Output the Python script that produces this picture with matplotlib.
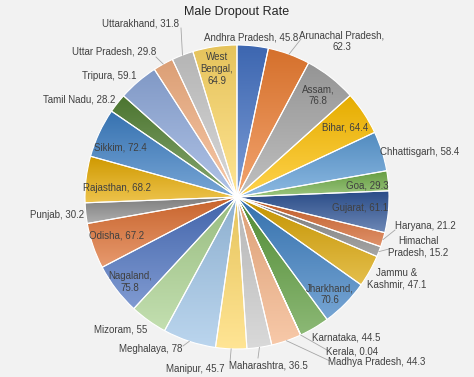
import numpy as np
import matplotlib.pyplot as plt
from matplotlib.colors import to_rgb

states = ['Andhra Pradesh', 'Arunachal Pradesh', 'Assam', 'Bihar', 'Chhattisgarh', 'Goa',
          'Gujarat', 'Haryana', 'Himachal Pradesh', 'Jammu & Kashmir', 'Jharkhand', 'Karnataka',
          'Kerala', 'Madhya Pradesh', 'Maharashtra', 'Manipur', 'Meghalaya', 'Mizoram',
          'Nagaland', 'Odisha', 'Punjab', 'Rajasthan', 'Sikkim', 'Tamil Nadu',
          'Tripura', 'Uttar Pradesh', 'Uttarakhand', 'West Bengal']
rates = [45.8, 62.3, 76.8, 64.4, 58.4, 29.3,
         61.1, 21.2, 15.2, 47.1, 70.6, 44.5,
         0.04, 44.3, 36.5, 45.7, 78, 55,
         75.8, 67.2, 30.2, 68.2, 72.4, 28.2,
         59.1, 29.8, 31.8, 64.9]

# colores tipo excel
colores = ['#4472C4', '#ED7D31', '#A5A5A5', '#FFC000', '#5B9BD5', '#70AD47',
           '#2F5597', '#D2632A', '#7F7F7F', '#D9A300', '#3A7DC0', '#5A9A3A',
           '#8FAADC', '#F4B183', '#C9C9C9', '#FFD966', '#9DC3E6', '#A9D18E',
           '#4A70BE', '#DD6E30', '#8C8C8C', '#E6AA00', '#3D7FC4', '#548235',
           '#8FAADC', '#F4B183', '#C9C9C9', '#FFD966']

# texto de cada etiqueta (con saltos de linea como en el original)
textos = {'Arunachal Pradesh': 'Arunachal Pradesh,\n62.3', 'Assam': 'Assam,\n76.8',
          'Himachal Pradesh': 'Himachal\nPradesh, 15.2', 'Jammu & Kashmir': 'Jammu &\nKashmir, 47.1',
          'Jharkhand': 'Jharkhand,\n70.6', 'Nagaland': 'Nagaland,\n75.8',
          'West Bengal': 'West\nBengal,\n64.9'}

# posicion de etiquetas en pixeles de la imagen
pos_etiq = {'Andhra Pradesh': (251, 38), 'Arunachal Pradesh': (342, 41), 'Assam': (318, 95),
            'Bihar': (345, 128), 'Chhattisgarh': (420, 152), 'Goa': (367, 186),
            'Gujarat': (360, 208), 'Haryana': (425, 226), 'Himachal Pradesh': (418, 247),
            'Jammu & Kashmir': (397, 279), 'Jharkhand': (330, 294), 'Karnataka': (346, 337),
            'Kerala': (352, 351), 'Madhya Pradesh': (377, 362), 'Maharashtra': (268, 366),
            'Manipur': (195, 369), 'Meghalaya': (151, 349), 'Mizoram': (121, 330),
            'Nagaland': (130, 282), 'Odisha': (117, 235), 'Punjab': (57, 215),
            'Rajasthan': (117, 188), 'Sikkim': (120, 148), 'Tamil Nadu': (79, 99),
            'Tripura': (109, 76), 'Uttar Pradesh': (114, 52), 'Uttarakhand': (141, 23),
            'West Bengal': (217, 69)}

# punto final de las lineas guia (lado de la etiqueta)
guias = {'Arunachal Pradesh': (301, 39), 'Uttarakhand': (181, 28), 'Uttar Pradesh': (156, 57),
         'Meghalaya': (183, 346), 'Manipur': (230, 362), 'Maharashtra': (258, 358),
         'Madhya Pradesh': (330, 361), 'Kerala': (327, 350), 'Himachal Pradesh': (389, 249),
         'Haryana': (395, 230)}

cx, cy, R = 237, 197, 152


def px(p):
    return (p[0] - cx) / R, (cy - p[1]) / R


def tono(c, f):
    r = np.array(to_rgb(c))
    return r + (1 - r) * f if f > 0 else r * (1 + f)


fig = plt.figure(figsize=(4.74, 3.77), dpi=100)
fig.patch.set_facecolor('#F2F2F2')
ax = fig.add_axes([0, 0, 1, 1])
ax.set_facecolor('#F2F2F2')
ax.axis('off')

wedges, _ = ax.pie(rates, startangle=90, counterclock=False, radius=1, center=(0, 0),
                   colors=colores, wedgeprops=dict(edgecolor='white', linewidth=0.8))

# degradado vertical en cada porcion
g = np.linspace(0, 1, 64)[:, None, None]
for w, c in zip(wedges, colores):
    bb = w.get_path().get_extents()
    img = tono(c, -0.1) * (1 - g) + tono(c, 0.3) * g
    im = ax.imshow(img, extent=[bb.x0, bb.x1, bb.y0, bb.y1], origin='upper',
                   aspect='auto', interpolation='bilinear', zorder=1)
    im.set_clip_path(w)
    w.set_facecolor('none')
    w.set_zorder(2)

# etiquetas
for w, s, v in zip(wedges, states, rates):
    t = textos.get(s, f'{s}, {v:g}')
    x, y = px(pos_etiq[s])
    ax.text(x, y, t, ha='center', va='center', fontsize=7, color='#404040',
            family='Liberation Sans', multialignment='center', zorder=4)
    if s in guias:
        ang = np.radians((w.theta1 + w.theta2) / 2)
        x2, y2 = px(guias[s])
        ax.plot([np.cos(ang), x2], [np.sin(ang), y2], color='#A6A6A6', lw=0.6, zorder=3)

fig.text(237 / 474, 1 - 11.5 / 377, 'Male Dropout Rate', ha='center', va='center',
         fontsize=9, color='#262626', family='Liberation Sans')

ax.set_xlim(-cx / R, (474 - cx) / R)
ax.set_ylim((cy - 377) / R, cy / R)
ax.set_aspect('auto')

fig.savefig('out.png', dpi=100, facecolor=fig.get_facecolor())
